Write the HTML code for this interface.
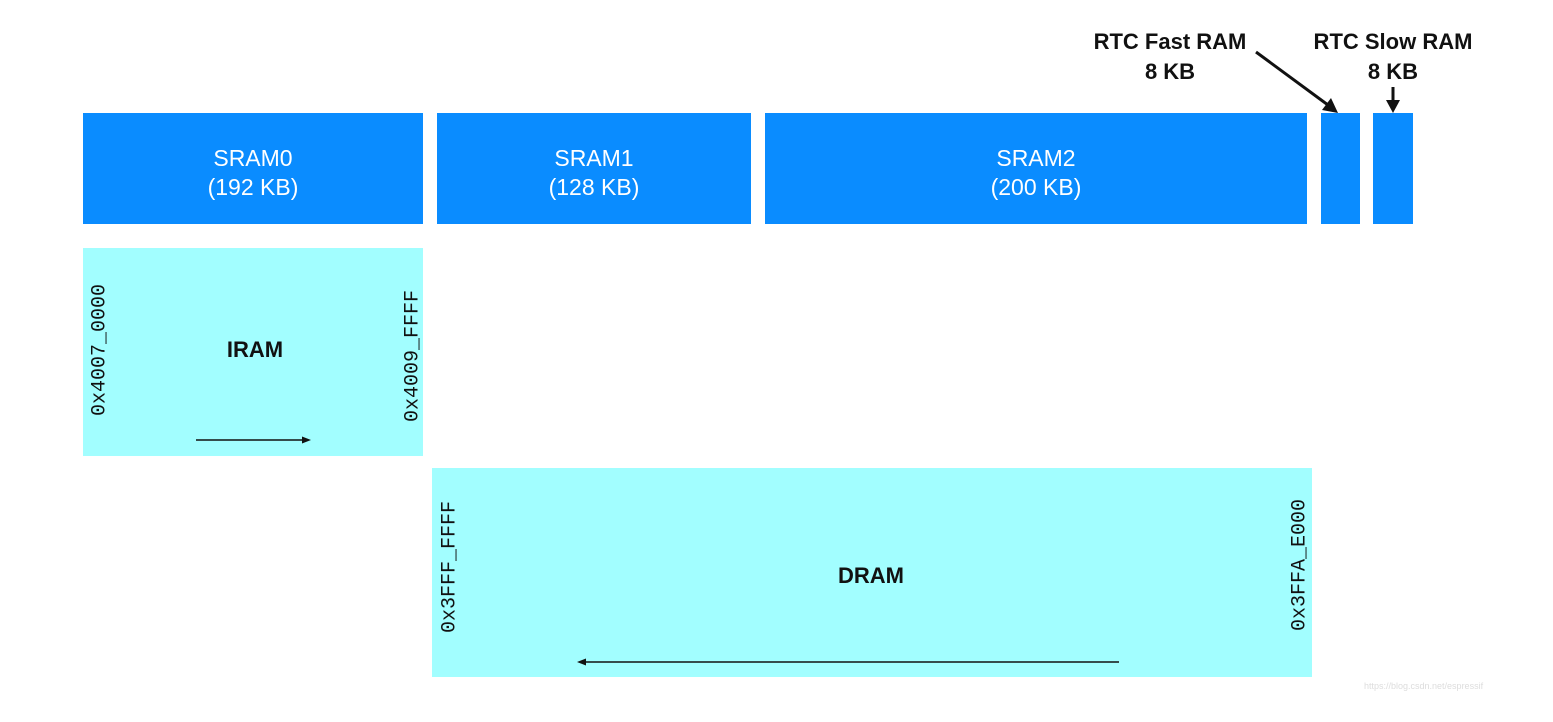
<!DOCTYPE html>
<html><head><meta charset="utf-8"><style>
html,body{margin:0;padding:0;background:#fff;}
body{width:1553px;height:722px;position:relative;overflow:hidden;font-family:"Liberation Sans",Arial,sans-serif;}
.b{position:absolute;background:#0a8cff;color:#fff;font-size:23px;line-height:29px;text-align:center;display:flex;align-items:center;justify-content:center;}
.b span{position:relative;top:4px;}
.c{position:absolute;background:#a2feff;}
.v{position:absolute;font-family:"Liberation Mono",monospace;font-size:20px;color:#111;white-space:nowrap;transform:translate(-50%,-50%) rotate(-90deg);}
.t{position:absolute;font-size:22px;font-weight:bold;line-height:30px;text-align:center;color:#111;transform:translateX(-50%);white-space:nowrap;}
.l{position:absolute;font-size:22px;font-weight:bold;color:#111;transform:translate(-50%,-50%);}
</style></head><body>
<div class="b" style="left:83px;top:113px;width:340px;height:111px;"><span>SRAM0<br>(192 KB)</span></div>
<div class="b" style="left:437px;top:113px;width:314px;height:111px;"><span>SRAM1<br>(128 KB)</span></div>
<div class="b" style="left:765px;top:113px;width:542px;height:111px;"><span>SRAM2<br>(200 KB)</span></div>
<div class="b" style="left:1321px;top:113px;width:39px;height:111px;"></div>
<div class="b" style="left:1373px;top:113px;width:40px;height:111px;"></div>
<div class="t" style="left:1170px;top:27px;">RTC Fast RAM<br>8 KB</div>
<div class="t" style="left:1393px;top:27px;">RTC Slow RAM<br>8 KB</div>

<div class="c" style="left:83px;top:248px;width:340px;height:208px;"></div>
<div class="c" style="left:432px;top:468px;width:880px;height:209px;"></div>
<div class="l" style="left:255px;top:350px;">IRAM</div>
<div class="l" style="left:871px;top:576px;">DRAM</div>
<div class="v" style="left:100px;top:350px;">0x4007_0000</div>
<div class="v" style="left:413px;top:356px;">0x4009_FFFF</div>
<div class="v" style="left:450px;top:567px;">0x3FFF_FFFF</div>
<div class="v" style="left:1300px;top:565px;">0x3FFA_E000</div>

<svg width="1553" height="722" style="position:absolute;left:0;top:0;">
<line x1="196" y1="440" x2="303" y2="440" stroke="#111" stroke-width="1.5"/>
<polygon points="311,440 302,436.5 302,443.5" fill="#111"/>
<line x1="585" y1="662" x2="1119" y2="662" stroke="#111" stroke-width="1.5"/>
<polygon points="577,662 586,658.5 586,665.5" fill="#111"/>
<line x1="1256" y1="52" x2="1328" y2="105" stroke="#111" stroke-width="3"/>
<polygon points="1338,113 1322,110 1331,98" fill="#111"/>
<line x1="1393" y1="87" x2="1393" y2="102" stroke="#111" stroke-width="3"/>
<polygon points="1393,113 1386,100 1400,100" fill="#111"/>
</svg>
<div style="position:absolute;left:1364px;top:681px;font-size:9px;color:#ddd;">https://blog.csdn.net/espressif</div>
</body></html>
